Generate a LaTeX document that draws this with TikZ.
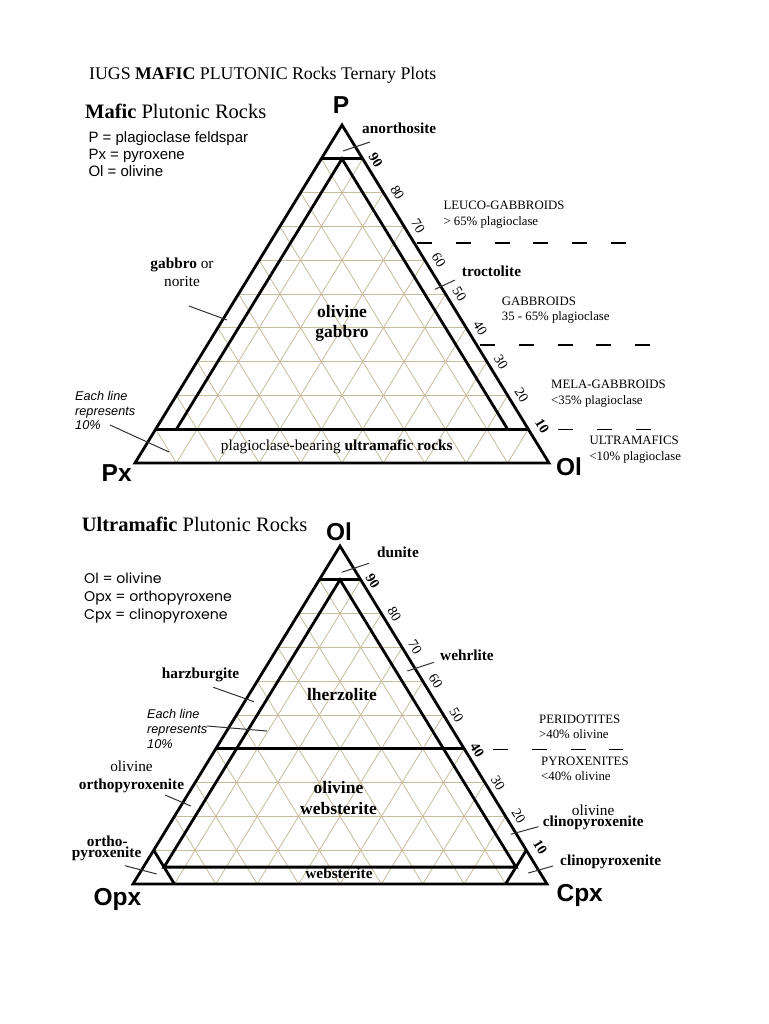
\documentclass[tikz,border=0pt]{standalone}
\usepackage{fontspec}
\setmainfont{Liberation Serif}
\newfontfamily\arialf{Liberation Sans}
\newfontfamily\geof{Poppins}
\usetikzlibrary{calc}
\newcommand\myfs[1]{\fontsize{#1}{#1}\selectfont}
\definecolor{gridc}{RGB}{200,187,155}
\newcommand\terngrid[3]{%
  \foreach \i in {1,...,9}{%
    \pgfmathsetmacro\ta{\i/10}\pgfmathsetmacro\tb{1-\i/10}%
    \draw[gridln] (barycentric cs:#1=\ta,#2=\tb,#3=0) -- (barycentric cs:#1=\ta,#2=0,#3=\tb);
    \draw[gridln] (barycentric cs:#2=\ta,#1=\tb,#3=0) -- (barycentric cs:#2=\ta,#1=0,#3=\tb);
    \draw[gridln] (barycentric cs:#3=\ta,#1=\tb,#2=0) -- (barycentric cs:#3=\ta,#1=0,#2=\tb);
  }}
\newcommand\leader[3]{%
  \coordinate (#1-a) at #2; \coordinate (#1-b) at #3;
  \draw[leaderln] (#1-a) -- (#1-b);}
\begin{document}
\begin{tikzpicture}[x=1pt,y=-1pt,
  gridln/.style={draw=gridc, line width=0.8pt},
  bold3/.style={draw=black, line width=2.8pt},
  leaderln/.style={draw=black!80, line width=1pt},
  dashln/.style={draw=black, dash pattern=on 15pt off 23.8pt, line width=2pt},
  lbl/.style={inner sep=0pt, font=\myfs{15.3}, text height=0.78em, text depth=0.2em},
  reg/.style={inner sep=0pt, font=\bfseries\myfs{17.5}, text height=0.78em, text depth=0.2em},
  cat/.style={inner sep=0pt, anchor=west, font=\myfs{12.8}, text height=0.75em, text depth=0.1em},
  ticklbl/.style={inner sep=0pt, font=\myfs{14}, rotate=-58.5},
  corner/.style={inner sep=0pt, anchor=base, font=\arialf\bfseries\myfs{24.5}},
  legend/.style={inner sep=0pt, anchor=west, font=\arialf\myfs{15}, text height=0.75em, text depth=0.15em},
  legendb/.style={inner sep=0pt, anchor=west, font=\geof\myfs{14.1}, text height=0.75em, text depth=0.15em},
  note/.style={inner sep=0pt, anchor=west, font=\arialf\itshape\myfs{12.7}, text height=0.75em, text depth=0.15em}
]
\fill[white] (0,0) rectangle (768,1024);
\useasboundingbox (0,0) rectangle (768,1024);

% ---------------- corners
\coordinate (tP) at (342,125);
\coordinate (tPx) at (135,463);
\coordinate (tOl) at (549,463);
\coordinate (bOl) at (340,546);
\coordinate (bOpx) at (133,884);
\coordinate (bCpx) at (547,884);

% ---------------- titles
\node[inner sep=0pt, anchor=west, font=\myfs{17.8}, text height=0.72em, text depth=0.1em] (title) at (89,76.7) {IUGS \textbf{MAFIC} PLUTONIC Rocks Ternary Plots};
\node[inner sep=0pt, anchor=west, font=\myfs{20.5}, text height=0.72em, text depth=0.1em] (maficttl) at (85,115) {\textbf{Mafic} Plutonic Rocks};
\node[legend] (lg1) at (88.3,139.3) {P = plagioclase feldspar};
\node[legend] (lg2) at (88.3,156.7) {Px = pyroxene};
\node[legend] (lg3) at (88.3,174) {Ol = olivine};

% ================= TOP TRIANGLE
\terngrid{tP}{tOl}{tPx}
\draw[bold3] (tP) -- (tPx) -- (tOl) -- cycle;
\draw[bold3] (barycentric cs:tP=0.9,tPx=0.1) -- (barycentric cs:tP=0.9,tOl=0.1);
\draw[bold3] (barycentric cs:tP=0.1,tPx=0.9) -- (barycentric cs:tP=0.1,tOl=0.9);
\draw[bold3] (barycentric cs:tP=0.1,tOl=0.05,tPx=0.85) -- (barycentric cs:tP=0.9,tOl=0.05,tPx=0.05) -- (barycentric cs:tP=0.1,tOl=0.85,tPx=0.05);

\node[corner] (cP) at (341,113.3) {P};
\node[corner] (cPx) at (116.7,481.7) {Px};
\node[corner] (cOl) at (569,475) {Ol};

\foreach \v in {80,70,60,50,40,30,20}{
  \node[ticklbl] (tt\v) at ($(tOl)!\v/100!(tP)+(14,0)$) {\v};
}
\node[ticklbl, font=\bfseries\myfs{14}] (tt90) at ($(tOl)!0.9!(tP)+(13,1)$) {90};
\node[ticklbl, font=\bfseries\myfs{14}] (tt10) at ($(tOl)!0.1!(tP)+(14,-3)$) {10};

\node[lbl, anchor=west] (anor) at (362,131) {\textbf{anorthosite}};
\leader{lanor}{(343,151)}{(370,142)}
\node[lbl, anchor=west] (troc) at (461.7,273.3) {\textbf{troctolite}};
\leader{ltroc}{(435,289.3)}{(455,280)}
\node[lbl] (gab1) at (182,266) {\textbf{gabbro} or};
\node[lbl] (gab2) at (182,284) {norite};
\leader{lgab}{(189,306)}{(227,320)}
\node[reg] (olg1) at (342,314.5) {olivine};
\node[reg] (olg2) at (342,335) {gabbro};
\node[lbl, anchor=west] (pbur) at (220.7,447.3) {plagioclase-bearing \textbf{ultramafic rocks}};
\node[note] (nt1) at (75,397) {Each line};
\node[note] (nt2) at (75,412) {represents};
\node[note] (nt3) at (75,426.5) {10\%};
\leader{lnt}{(110,425)}{(169,452)}

\node[cat] (c1a) at (443.3,206.7) {LEUCO-GABBROIDS};
\node[cat] (c1b) at (443.3,222.7) {> 65\% plagioclase};
\node[cat] (c2a) at (501.7,302.3) {GABBROIDS};
\node[cat] (c2b) at (501.7,317.7) {35 - 65\% plagioclase};
\node[cat] (c3a) at (551,385.7) {MELA-GABBROIDS};
\node[cat] (c3b) at (551,401.7) {<35\% plagioclase};
\node[cat] (c4a) at (589.3,441.7) {ULTRAMAFICS};
\node[cat] (c4b) at (589.3,457.7) {<10\% plagioclase};

\coordinate (d1a) at (417,243.3); \coordinate (d1b) at (627,243.3);
\coordinate (d2a) at (480,344.7); \coordinate (d2b) at (650,344.7);
\coordinate (d3a) at (558,429.5); \coordinate (d3b) at (651,429.5);
\draw[dashln] (d1a) -- (d1b);
\draw[dashln] (d2a) -- (d2b);
\draw[dashln, line width=1.4pt] (d3a) -- (d3b);

% ================= BOTTOM TRIANGLE
\node[inner sep=0pt, anchor=west, font=\myfs{20.5}, text height=0.72em, text depth=0.1em] (umttl) at (81.7,528) {\textbf{Ultramafic} Plutonic Rocks};
\node[legendb] (lb1) at (84,580) {Ol = olivine};
\node[legendb] (lb2) at (84,598) {Opx = orthopyroxene};
\node[legendb] (lb3) at (84,616) {Cpx = clinopyroxene};

\terngrid{bOl}{bCpx}{bOpx}
\draw[bold3] (bOl) -- (bOpx) -- (bCpx) -- cycle;
\draw[bold3] (barycentric cs:bOl=0.9,bOpx=0.1) -- (barycentric cs:bOl=0.9,bCpx=0.1);
\draw[bold3] (barycentric cs:bOl=0.4,bOpx=0.6) -- (barycentric cs:bOl=0.4,bCpx=0.6);
\draw[bold3] (barycentric cs:bOl=0.05,bOpx=0.9,bCpx=0.05) -- (barycentric cs:bOl=0.9,bOpx=0.05,bCpx=0.05) -- (barycentric cs:bOl=0.05,bOpx=0.05,bCpx=0.9) -- cycle;
\draw[bold3] (barycentric cs:bOl=0.1,bOpx=0.9) -- (barycentric cs:bCpx=0.1,bOpx=0.9);
\draw[bold3] (barycentric cs:bOl=0.1,bCpx=0.9) -- (barycentric cs:bOpx=0.1,bCpx=0.9);

\node[corner] (cOl2) at (339,540) {Ol};
\node[corner] (cOpx) at (117.5,905) {Opx};
\node[corner] (cCpx) at (579.7,901) {Cpx};

\foreach \v in {80,70,60,50,30,20}{
  \node[ticklbl] (bt\v) at ($(bCpx)!\v/100!(bOl)+(13,0)$) {\v};
}
\node[ticklbl, font=\bfseries\myfs{14}] (bt90) at ($(bCpx)!0.9!(bOl)+(12,1.5)$) {90};
\node[ticklbl, font=\bfseries\myfs{14}] (bt40) at ($(bCpx)!0.4!(bOl)+(13,1)$) {40};
\node[ticklbl, font=\bfseries\myfs{14}] (bt10) at ($(bCpx)!0.1!(bOl)+(14,-3)$) {10};

\node[lbl, anchor=west] (dun) at (377,555) {\textbf{dunite}};
\leader{ldun}{(341.7,572.3)}{(369,563.3)}
\node[lbl, anchor=west] (weh) at (440,658) {\textbf{wehrlite}};
\leader{lweh}{(407.3,671)}{(434,662.3)}
\node[lbl, anchor=west] (harz) at (161.7,676) {\textbf{harzburgite}};
\leader{lharz}{(213.3,687.3)}{(254,701.7)}
\node[reg] (lherz) at (342,697.7) {lherzolite};
\node[note] (nb1) at (147,715) {Each line};
\node[note] (nb2) at (147,730) {represents};
\node[note] (nb3) at (147,745) {10\%};
\leader{lnb}{(207,726)}{(267,731)}
\node[lbl] (oo1) at (131.5,769) {olivine};
\node[lbl] (oo2) at (131.5,786.7) {\textbf{orthopyroxenite}};
\leader{loo}{(165,795)}{(190.7,806)}
\node[reg] (ow1) at (338.5,791) {olivine};
\node[reg] (ow2) at (338.5,812) {websterite};
\node[lbl, anchor=west] (op1) at (86.7,844) {\textbf{ortho-}};
\node[lbl, anchor=west] (op2) at (71.7,855) {\textbf{pyroxenite}};
\leader{lop}{(125,865.7)}{(156.7,874)}
\node[lbl] (web) at (339,876) {\textbf{websterite}};
\node[lbl, anchor=west] (oc1) at (571.7,812.5) {olivine};
\node[lbl, anchor=west] (oc2) at (542.7,824) {\textbf{clinopyroxenite}};
\leader{loc}{(510.7,834.3)}{(538.3,826.7)}
\node[lbl, anchor=west] (cpx) at (560,863) {\textbf{clinopyroxenite}};
\leader{lcpx}{(528.3,873)}{(553,866)}

\node[cat] (p1a) at (539,720) {PERIDOTITES};
\node[cat] (p1b) at (539,735.5) {>40\% olivine};
\node[cat] (p2a) at (541,762.7) {PYROXENITES};
\node[cat] (p2b) at (541,777.7) {<40\% olivine};
\coordinate (d4a) at (493,749); \coordinate (d4b) at (623,749);
\draw[dashln, line width=1pt] (d4a) -- (d4b);
\end{tikzpicture}
\end{document}
